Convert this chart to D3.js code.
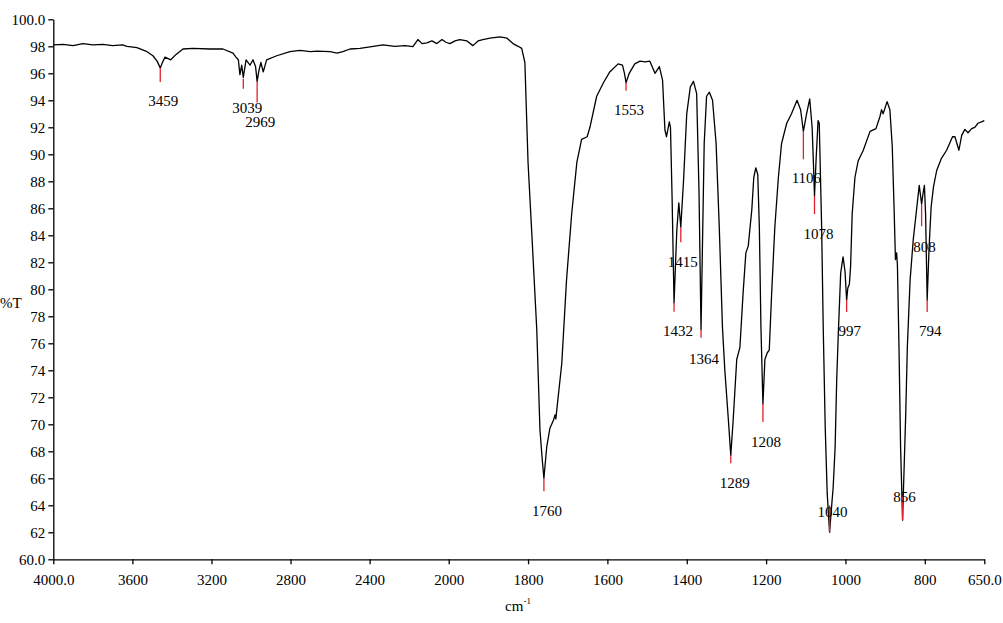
<!DOCTYPE html>
<html>
<head>
<meta charset="utf-8">
<title>IR spectrum</title>
<script src="https://cdn.jsdelivr.net/npm/d3@7"></script>
<style>
  body { margin: 0; background: #fff; }
  svg text { font-family: "Liberation Serif", "Times New Roman", serif; fill: #000; }
  .axis path, .axis line { stroke: #000; stroke-width: 1.3px; }
  .axis text { font-size: 15px; }
</style>
</head>
<body>
<svg id="chart" width="1003" height="623"></svg>
<script>
// spectrum (cm-1, %T)
var wavenumber = [4000, 3950, 3900, 3850, 3800, 3750, 3700, 3650, 3627, 3577, 3526, 3496, 3475, 3459, 3448, 3435,
  3406, 3379, 3344, 3293, 3207, 3142, 3091, 3076, 3064, 3056, 3047, 3039, 3025, 3005, 2990, 2977, 2969, 2960,
  2950, 2938, 2921, 2870, 2803, 2752, 2700, 2666, 2600, 2565, 2535, 2499, 2449, 2398, 2332, 2272, 2221, 2181,
  2156, 2135, 2110, 2085, 2060, 2034, 2014, 1997, 1984, 1972, 1954, 1939, 1926, 1914, 1896, 1871, 1853, 1838,
  1825, 1816, 1808, 1800, 1791, 1778, 1770, 1764, 1760, 1753, 1745, 1736, 1732, 1730, 1715, 1703, 1690, 1677,
  1665, 1651, 1644, 1627, 1610, 1594, 1573, 1562, 1557, 1553, 1545, 1531, 1518, 1505, 1493, 1480, 1469, 1461,
  1455, 1451, 1444, 1441, 1437, 1432, 1425, 1420, 1415, 1408, 1400, 1391, 1383, 1375, 1369, 1364, 1361, 1356,
  1350, 1343, 1335, 1326, 1318, 1310, 1304, 1295, 1289, 1283, 1274, 1266, 1258, 1251, 1245, 1236, 1231, 1226,
  1221, 1217, 1213, 1208, 1203, 1197, 1192, 1186, 1178, 1169, 1161, 1148, 1136, 1122, 1113, 1106, 1098, 1090,
  1084, 1081, 1078, 1074, 1069, 1066, 1060, 1056, 1051, 1046, 1040, 1033, 1031, 1026, 1022, 1018, 1012, 1006,
  1001, 997, 994, 990, 987, 983, 976, 968, 955, 938, 923, 913, 909, 905, 895, 888, 882, 877, 874, 871, 869, 865,
  861, 856, 853, 848, 844, 837, 829, 820, 814, 808, 805, 801, 798, 794, 789, 784, 778, 770, 758, 745, 730, 724,
  714, 707, 699, 691, 682, 674, 666, 657, 650];
var transmittance = [98.1, 98.15, 98.05, 98.2, 98.1, 98.15, 98.05, 98.1, 98.0, 97.9, 97.6, 97.3, 96.9, 96.4, 96.8, 97.2,
  97.0, 97.4, 97.8, 97.85, 97.8, 97.8, 97.5, 97.2, 97.0, 95.9, 96.6, 95.7, 97.0, 96.6, 97.0, 96.5, 95.4, 96.2,
  96.8, 96.1, 97.0, 97.3, 97.6, 97.7, 97.6, 97.65, 97.6, 97.5, 97.6, 97.8, 97.85, 97.95, 98.1, 98.0, 98.05, 97.97,
  98.5, 98.2, 98.25, 98.4, 98.2, 98.5, 98.3, 98.2, 98.4, 98.5, 98.4, 98.05, 98.4, 98.5, 98.6, 98.7, 98.6, 98.2,
  98.0, 97.85, 96.8, 89.4, 84.4, 77.0, 69.6, 67.3, 66.0, 68.3, 69.7, 70.3, 70.7, 70.4, 74.5, 80.7, 85.6, 89.4,
  91.1, 91.3, 92.0, 94.3, 95.3, 96.1, 96.7, 96.6, 96.0, 95.3, 96.0, 96.7, 96.9, 96.85, 96.9, 96.0, 96.5, 95.5,
  91.8, 91.3, 92.4, 92.0, 86.9, 79.0, 84.4, 86.4, 84.6, 88.1, 93.0, 95.0, 95.4, 94.5, 87.1, 77.0, 82.2, 90.8,
  94.3, 94.6, 94.0, 90.8, 84.6, 77.2, 74.0, 70.3, 67.7, 70.3, 74.8, 75.7, 79.7, 82.7, 83.2, 85.9, 88.3, 89.0,
  88.5, 84.6, 77.2, 71.5, 74.8, 75.3, 75.5, 79.7, 84.6, 88.3, 90.8, 92.3, 93.0, 94.0, 93.3, 91.7, 93.0, 94.1,
  92.0, 89.6, 86.9, 89.6, 92.5, 92.3, 84.6, 77.2, 69.8, 64.9, 62.0, 64.6, 65.3, 68.3, 73.3, 76.7, 81.2, 82.4,
  81.3, 79.2, 80.1, 80.4, 81.7, 85.6, 88.3, 89.5, 90.3, 91.7, 91.9, 92.8, 93.3, 93.0, 93.9, 93.3, 90.6, 85.6, 82.2, 82.7, 81.8, 75.7,
  68.3, 62.9, 65.9, 70.8, 75.7, 80.7, 83.7, 86.1, 87.7, 86.3, 87.0, 87.7, 85.6, 79.2, 83.2, 86.1, 87.6, 88.8, 89.7, 90.3, 91.3, 91.3,
  90.3, 91.4, 91.85, 91.6, 91.9, 92.0, 92.3, 92.4, 92.5];

// labelled peaks
var peakLabels = ["3459", "3039", "2969", "1760", "1553", "1432", "1415", "1364", "1289", "1208",
  "1106", "1078", "1040", "997", "856", "808", "794"];
var peakWn = [3459, 3039, 2969, 1760, 1553, 1432, 1415, 1364, 1289, 1208, 1106, 1078, 1040, 997, 856, 808, 794];
var peakT = [96.4, 95.6, 95.4, 66.0, 95.3, 79.0, 84.6, 77.0, 67.7, 71.5, 91.7, 86.9, 62.0, 79.2, 62.9, 86.3, 79.2];

var xTicks = [4000, 3600, 3200, 2800, 2400, 2000, 1800, 1600, 1400, 1200, 1000, 800, 650];
var yTicks = d3.range(60, 101, 2);

// marker from/to and label offset (px, relative to the peak point)
var markLayout = [[0, 14, 3, 38], [0, 10, 4, 34], [0, 21, 3, 46], [0, 13, 3, 38], [0, 8, 3, 32],
  [0, 9, 4, 33], [0, 15, 2, 40], [0, 8, 3, 34], [0, 8, 4, 33], [0, 18, 3, 43], [0, 28, 3, 52],
  [0, 18, 4, 43], [-27, 0, 3, -15], [0, 12, 3, 36], [-25, 0, 2, -18], [0, 22, 3, 48], [0, 12, 3, 36]];

var svg = d3.select("#chart");

// x axis is expanded 2x below 2000 cm-1
var x = d3.scaleLinear().domain([4000, 2000, 650]).range([53.3, 448.7, 984.3]);
var y = d3.scaleLinear().domain([60, 100]).range([559.3, 19.3]);

var xAxis = svg.append("g").attr("class", "axis")
  .attr("transform", "translate(0," + y(60) + ")")
  .call(d3.axisBottom(x).tickValues(xTicks).tickSize(5).tickSizeOuter(0).tickPadding(10)
    .tickFormat(function(d) { return (d == 4000 || d == 650) ? d.toFixed(1) : d; }));

var yAxis = svg.append("g").attr("class", "axis")
  .attr("transform", "translate(" + x(4000) + ",0)")
  .call(d3.axisLeft(y).tickValues(yTicks).tickSize(5).tickSizeOuter(0).tickPadding(3)
    .tickFormat(function(d) { return (d == 60 || d == 100) ? d.toFixed(1) : d; }));

svg.selectAll(".axis text").attr("fill", "#000");

// spectrum
var line = d3.line()
  .x(function(d, i) { return x(wavenumber[i]); })
  .y(function(d) { return y(d); });

svg.append("path")
  .datum(transmittance)
  .attr("d", line)
  .attr("fill", "none")
  .attr("stroke", "#000")
  .attr("stroke-width", 1.3)
  .attr("stroke-linejoin", "round");

// peak markers and labels
var peaks = svg.selectAll(".peak")
  .data(peakWn)
  .enter().append("g")
  .attr("class", "peak")
  .attr("transform", function(d, i) { return "translate(" + x(d) + "," + y(peakT[i]) + ")"; });

peaks.append("line")
  .attr("x1", 0).attr("x2", 0)
  .attr("y1", function(d, i) { return markLayout[i][0]; })
  .attr("y2", function(d, i) { return markLayout[i][1]; })
  .attr("stroke", "#e0202a")
  .attr("stroke-width", 1.3);

peaks.append("text")
  .attr("x", function(d, i) { return markLayout[i][2]; })
  .attr("y", function(d, i) { return markLayout[i][3]; })
  .attr("text-anchor", "middle")
  .style("font-size", "15px")
  .text(function(d, i) { return peakLabels[i]; });

// axis titles
svg.append("text")
  .attr("x", 0).attr("y", 308)
  .style("font-size", "15px")
  .text("%T");

var xTitle = svg.append("text")
  .attr("x", 518).attr("y", 611)
  .attr("text-anchor", "middle")
  .style("font-size", "15px");
xTitle.append("tspan").text("cm");
xTitle.append("tspan").attr("dy", -7).style("font-size", "9px").text("-1");
</script>
</body>
</html>
